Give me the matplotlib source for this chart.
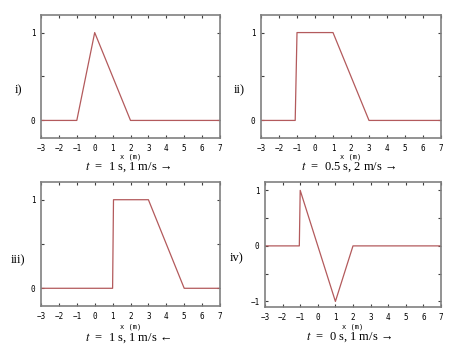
import matplotlib
matplotlib.use("Agg")
import matplotlib.pyplot as plt
from matplotlib.ticker import MultipleLocator

# pulse shapes (x in m, amplitude)
x_i = [-3, -1, 0, 2, 7]
y_i = [0, 0, 1, 0, 0]

x_ii = [-3, -1.1, -1, 1, 3, 7]
y_ii = [0, 0, 1, 1, 0, 0]

x_iii = [-3, 1, 1.05, 3, 5, 7]
y_iii = [0, 0, 1, 1, 0, 0]

x_iv = [-3, -1.05, -1, 1, 2, 7]
y_iv = [0, 0, 1, -1, 0, 0]

labels = ["i)", "ii)", "iii)", "iv)"]
captions = [r"$t$  =  1 s, 1 m/s →", r"$t$  =  0.5 s, 2 m/s →",
            r"$t$  =  1 s, 1 m/s ←", r"$t$  =  0 s, 1 m/s →"]
xticks = list(range(-3, 8))

plt.rcParams["mathtext.fontset"] = "stix"

line_col = "#b35a5c"
spine_col = "#808080"
serif = ["Liberation Serif", "DejaVu Serif"]
W, H = 474, 355

fig = plt.figure(figsize=(W / 100, H / 100), dpi=100)
fig.patch.set_facecolor("white")

# axes boxes in pixels: left, right, top, bottom
boxes = [(41, 220, 15, 138), (261, 441, 15, 138),
         (41, 220, 182, 306), (265, 441, 182, 307)]
data = [(x_i, y_i), (x_ii, y_ii), (x_iii, y_iii), (x_iv, y_iv)]
ylims = [(-0.2, 1.2), (-0.2, 1.2), (-0.2, 1.2), (-1.1, 1.15)]
lab_pos = [(18, 90), (239, 90), (18, 260), (237, 258)]
cap_pos = [(128, 167), (349, 167), (128, 338), (349, 337)]
xlab_y = [157, 157, 327, 327]

for k in range(4):
    l, r, t, b = boxes[k]
    ax = fig.add_axes([l / W, 1 - b / H, (r - l) / W, (b - t) / H])
    xs, ys = data[k]
    ax.plot(xs, ys, color=line_col, lw=0.9)
    ax.set_xlim(-3, 7)
    ax.set_ylim(*ylims[k])
    ax.set_xticks(xticks)
    if k == 3:
        ax.set_yticks([-1, 0, 1])
    else:
        ax.set_yticks([0, 1])
    ax.yaxis.set_minor_locator(MultipleLocator(0.5))
    ax.tick_params(direction="in", top=True, right=True, length=2.5,
                   width=0.8, color="#404040", labelsize=5.5, pad=4)
    ax.tick_params(which="minor", direction="in", right=True, length=2.5,
                   width=0.8, color="#404040")
    for lb in ax.get_xticklabels() + ax.get_yticklabels():
        lb.set_family("DejaVu Sans Mono")
    for s in ax.spines.values():
        s.set_color(spine_col)
        s.set_linewidth(1.2)

    cx = (l + r) / 2
    fig.text(cx / W, 1 - xlab_y[k] / H, "x (m)", family="DejaVu Sans Mono",
             fontsize=5, ha="center", va="center")
    fig.text(cap_pos[k][0] / W, 1 - cap_pos[k][1] / H, captions[k],
             family=serif, fontsize=9, ha="center", va="center")
    fig.text(lab_pos[k][0] / W, 1 - lab_pos[k][1] / H, labels[k],
             family=serif, fontsize=9, ha="center", va="center")

fig.savefig("out.png", dpi=100)
